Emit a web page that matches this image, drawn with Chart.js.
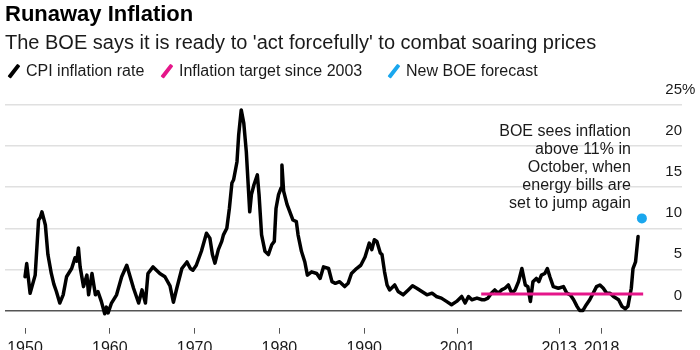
<!DOCTYPE html>
<html>
<head>
<meta charset="utf-8">
<script src="https://cdn.jsdelivr.net/npm/chart.js@4"></script>
<style>
  body { margin: 0; background: #fff; font-family: "Liberation Sans", Arial, sans-serif; }
  #wrap { position: relative; width: 700px; height: 350px; overflow: hidden; }
  #statsChart { position: absolute; left: 0; top: 0; }
  .head { position: absolute; left: 5px; line-height: 1; white-space: nowrap; }
  #title { top: 3px; font-size: 22px; font-weight: bold; color: #000; }
  #subtitle { top: 32px; font-size: 20px; color: #1a1a1a; }
  .leg-text { position: absolute; top: 63px; font-size: 16px; line-height: 1; color: #1a1a1a; white-space: nowrap; }
  .leg-icon { position: absolute; top: 63px; width: 3.5px; height: 16px; border-radius: 1px; transform: rotate(38deg); }
</style>
</head>
<body>
<div id="wrap">
  <canvas id="statsChart" width="700" height="350"></canvas>
  <div id="title" class="head">Runaway Inflation</div>
  <div id="subtitle" class="head">The BOE says it is ready to 'act forcefully' to combat soaring prices</div>
  <div id="legend"></div>
</div>
<script>
// CPI inflation rate, %
const cpiYears = [
  1950.0, 1950.2, 1950.6, 1951.2, 1951.6, 1951.8, 1952.0, 1952.2, 1952.4, 1952.7,
  1953.1, 1953.4, 1953.7, 1954.1, 1954.5, 1954.9, 1955.5, 1955.9, 1956.1, 1956.3,
  1956.5, 1956.9, 1957.3, 1957.5, 1957.9, 1958.3, 1958.6, 1959.0, 1959.4, 1959.6,
  1959.8, 1960.2, 1960.8, 1961.4, 1962.0, 1962.4, 1962.8, 1963.4, 1963.8, 1964.2,
  1964.5, 1965.1, 1965.9, 1966.5, 1967.1, 1967.5, 1967.9, 1968.5, 1969.1, 1969.5,
  1969.8, 1970.2, 1970.8, 1971.4, 1971.8, 1972.1, 1972.4, 1972.8, 1973.2, 1973.4,
  1973.8, 1974.1, 1974.4, 1974.6, 1975.0, 1975.2, 1975.5, 1975.8, 1976.1, 1976.5,
  1976.7, 1977.0, 1977.4, 1977.6, 1977.9, 1978.3, 1978.7, 1979.1, 1979.4, 1979.6,
  1979.9, 1980.2, 1980.3, 1980.5, 1980.9, 1981.3, 1981.6, 1982.0, 1982.2, 1982.6,
  1983.0, 1983.3, 1983.8, 1984.4, 1984.8, 1985.2, 1985.8, 1986.2, 1986.6, 1987.1,
  1987.7, 1988.1, 1988.5, 1989.1, 1989.6, 1990.1, 1990.6, 1990.9, 1991.2, 1991.5,
  1991.9, 1992.1, 1992.4, 1992.7, 1993.0, 1993.6, 1994.0, 1994.6, 1995.2, 1995.7,
  1996.2, 1996.8, 1997.4, 1998.0, 1998.5, 1999.1, 1999.7, 2000.3, 2000.9, 2001.5,
  2001.9, 2002.3, 2002.7, 2003.3, 2003.9, 2004.2, 2004.6, 2005.0, 2005.4, 2005.8,
  2006.2, 2006.6, 2007.0, 2007.4, 2007.8, 2008.2, 2008.6, 2009.0, 2009.3, 2009.6,
  2009.9, 2010.3, 2010.6, 2010.9, 2011.3, 2011.6, 2011.9, 2012.3, 2012.9, 2013.5,
  2013.9, 2014.3, 2014.7, 2015.1, 2015.4, 2015.8, 2016.2, 2016.6, 2017.0, 2017.4,
  2017.8, 2018.2, 2018.6, 2019.0, 2019.4, 2020.0, 2020.4, 2020.8, 2021.1, 2021.5,
  2021.7, 2022.0, 2022.3
];
const cpiValues = [
  4.1, 5.7, 2.1, 4.3, 11.0, 11.3, 12.0, 11.2, 10.4, 6.8,
  4.5, 3.2, 2.3, 0.9, 1.9, 4.1, 5.1, 6.4, 6.0, 7.6,
  5.3, 2.9, 4.3, 1.9, 4.5, 1.9, 2.3, 1.1, -0.4, 0.4,
  -0.3, 0.9, 1.9, 4.1, 5.5, 4.1, 2.7, 0.9, 2.5, 0.9,
  4.5, 5.3, 4.5, 4.1, 3.0, 1.0, 2.7, 5.1, 5.9, 5.1,
  4.9, 5.5, 7.2, 9.4, 8.8, 6.8, 5.75, 7.4, 8.4, 9.2,
  10.0, 12.4, 15.5, 15.9, 18.1, 21.4, 24.4, 22.8, 19.3, 12.0,
  14.1, 15.3, 16.5, 14.1, 9.2, 7.2, 6.8, 8.0, 8.4, 12.4,
  14.1, 14.9, 17.7, 14.5, 12.9, 11.8, 11.0, 10.8, 9.2, 7.2,
  5.9, 4.3, 4.7, 4.5, 3.9, 5.3, 5.1, 3.5, 3.3, 3.5,
  2.9, 3.3, 4.5, 5.1, 5.5, 6.5, 8.2, 7.4, 8.6, 8.4,
  7.0, 6.8, 4.7, 3.1, 2.5, 3.1, 2.3, 1.9, 2.5, 3.0,
  2.7, 2.3, 1.9, 2.1, 1.7, 1.5, 1.1, 0.7, 1.1, 1.7,
  0.9, 1.7, 1.3, 1.5, 1.3, 1.3, 1.5, 2.1, 2.5, 2.1,
  2.5, 2.7, 3.1, 2.1, 2.5, 3.5, 5.1, 3.1, 2.9, 1.1,
  3.5, 3.9, 3.5, 4.3, 4.5, 5.1, 4.1, 2.9, 2.7, 2.9,
  2.1, 1.9, 1.3, 0.5, 0.0, 0.0, 0.7, 1.3, 2.1, 2.9,
  3.1, 2.7, 2.1, 2.1, 1.7, 1.3, 0.5, 0.2, 0.5, 2.7,
  5.1, 5.9, 9.0
];

// inflation target since 2003
const targetYears = [2003.8, 2022.9];
const targetValues = [2, 2];

// new BOE forecast
const forecastYears = [2022.75];
const forecastValues = [11.2];

const xTickYears = [1950, 1960, 1970, 1980, 1990, 2001, 2013, 2018];
const yTicks = [0, 5, 10, 15, 20, 25];

const noteLines = [
  "BOE sees inflation",
  "above 11% in",
  "October, when",
  "energy bills are",
  "set to jump again",
];

const fontFamily = '"Liberation Sans", Arial, sans-serif';

// legend, built like the example builds its lists
const legendItems = [
  { label: "CPI inflation rate", color: "#000000", icon: 7, text: 26 },
  { label: "Inflation target since 2003", color: "#e5168a", icon: 160, text: 179 },
  { label: "New BOE forecast", color: "#1aa7ee", icon: 387, text: 406 },
];
let legendBox = document.getElementById("legend");
legendItems.forEach((item) => {
  let icon = document.createElement("div");
  icon.classList.add("leg-icon");
  icon.style.left = item.icon + 5 + "px";
  icon.style.background = item.color;
  legendBox.appendChild(icon);

  let text = document.createElement("div");
  text.classList.add("leg-text");
  text.style.left = item.text + "px";
  text.textContent = item.label;
  legendBox.appendChild(text);
});

// y labels sit above their gridlines, plus the annotation
const textPlugin = {
  id: "textPlugin",
  afterDraw(chart) {
    const { ctx, chartArea, scales } = chart;
    ctx.save();
    ctx.fillStyle = "#1a1a1a";
    ctx.textBaseline = "middle";
    ctx.font = "15px " + fontFamily;
    yTicks.forEach((v) => {
      const py = scales.y.getPixelForValue(v) - 15;
      ctx.textAlign = "right";
      ctx.fillText(String(v), chartArea.right, py);
      if (v === 25) {
        ctx.textAlign = "left";
        ctx.fillText("%", chartArea.right, py);
      }
    });

    ctx.font = "16px " + fontFamily;
    ctx.textAlign = "right";
    const nx = scales.x.getPixelForValue(2021.45);
    const ny = scales.y.getPixelForValue(21.75);
    noteLines.forEach((line, i) => {
      ctx.fillText(line, nx, ny + i * 17.9);
    });
    ctx.restore();
  },
};

const ctx = document.getElementById("statsChart").getContext("2d");

let inflationChart = new Chart(ctx, {
  type: "line",
  data: {
    datasets: [
      {
        label: "Inflation target since 2003",
        data: targetYears.map((yr, i) => ({ x: yr, y: targetValues[i] })),
        borderColor: "#e5168a",
        borderWidth: 3,
        pointRadius: 0,
      },
      {
        label: "CPI inflation rate",
        data: cpiYears.map((yr, i) => ({ x: yr, y: cpiValues[i] })),
        borderColor: "#000000",
        borderWidth: 3.5,
        borderJoinStyle: "round",
        borderCapStyle: "round",
        pointRadius: 0,
        tension: 0,
      },
      {
        label: "New BOE forecast",
        data: forecastYears.map((yr, i) => ({ x: yr, y: forecastValues[i] })),
        showLine: false,
        pointRadius: 5,
        pointBackgroundColor: "#1aa7ee",
        pointBorderWidth: 0,
      },
    ],
  },
  options: {
    responsive: false,
    animation: false,
    layout: {
      padding: { top: 105, left: 5, right: 18, bottom: 0 },
    },
    scales: {
      x: {
        type: "linear",
        min: 1947.64,
        max: 2027.48,
        afterBuildTicks: (scale) => {
          scale.ticks = xTickYears.map((v) => ({ value: v }));
        },
        afterFit: (scale) => {
          scale.height = 22.3;
        },
        grid: {
          drawOnChartArea: false,
          drawTicks: true,
          tickLength: 6,
          color: "#555",
          lineWidth: 1,
        },
        border: { display: false },
        ticks: {
          autoSkip: false,
          maxRotation: 0,
          padding: 5,
          color: "#1a1a1a",
          font: { family: fontFamily, size: 16 },
          callback: (value) => String(value),
        },
      },
      y: {
        position: "right",
        min: -2.1,
        max: 25,
        afterBuildTicks: (scale) => {
          scale.ticks = yTicks.map((v) => ({ value: v }));
        },
        ticks: { display: false },
        grid: {
          drawTicks: false,
          color: (c) => (c.tick && c.tick.value === 0 ? "#555" : "#e0e0e0"),
          lineWidth: 1.5,
        },
        border: { display: false },
      },
    },
    plugins: {
      legend: { display: false },
      tooltip: { enabled: false },
    },
  },
  plugins: [textPlugin],
});
</script>
</body>
</html>
